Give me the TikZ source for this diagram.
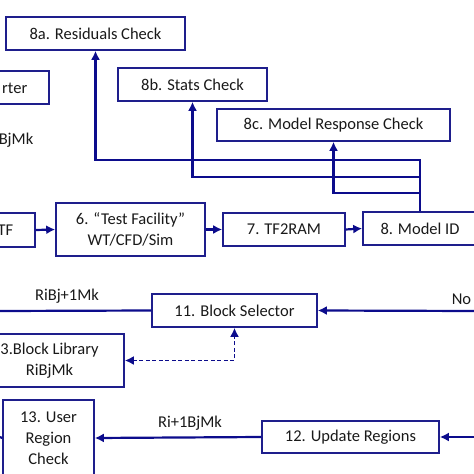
\documentclass[tikz,border=0pt]{standalone}
\usepackage{fontspec}
\setmainfont{Carlito}
\usetikzlibrary{arrows.meta}
\definecolor{boxblue}{RGB}{30,30,140}
\definecolor{lineblue}{RGB}{12,12,140}
\definecolor{txtgray}{RGB}{25,25,25}

\begin{document}
\begin{tikzpicture}[x=1bp, y=-1bp,
  box/.style={draw=boxblue, line width=1.6bp, minimum height=33bp, inner sep=0pt,
    align=center, text=txtgray, font=\fontsize{16.5bp}{21bp}\selectfont},
  lbl/.style={text=txtgray, inner sep=0pt, font=\fontsize{16.5bp}{21bp}\selectfont},
  link/.style={draw=lineblue, line width=2.2bp, -{Latex[length=9bp,width=9bp]}}]
  \useasboundingbox (0,0) rectangle (474,474);
  \clip (0,0) rectangle (474,474);

  % checks above the model ID
  \node[box, minimum width=179bp] (res) at (95.5,33.5) {8a. Residuals Check};
  \node[box, minimum width=149bp] (stats) at (192.5,84.5) {8b. Stats Check};
  \node[box, minimum width=233bp, minimum height=32bp] (resp) at (333.5,125) {8c. Model Response Check};
  \node[box, minimum width=149bp] (start) at (-25.5,87.5) {};
  \node[lbl, anchor=east] (startl) at (27.5,88) {rter};
  \node[lbl, anchor=east] (bjmk) at (33.5,140) {BjMk};

  % main chain
  \node[box, minimum width=122bp, minimum height=34bp] (ramtf) at (-26,230) {};
  \node[lbl, anchor=east] (ramtfl) at (13.5,230) {TF};
  \node[box, minimum width=149bp, minimum height=53bp] (fac) at (130.5,229.5) {6. “Test Facility”\\WT/CFD/Sim};
  \node[box, minimum width=122bp] (tfram) at (284,229.5) {7. TF2RAM};
  \node[box, minimum width=114bp] (mid) at (420,228.5) {8. Model ID};

  % block and region loop
  \node[box, minimum width=165bp] (sel) at (234.5,310.5) {11. Block Selector};
  \node[box, minimum width=149bp, minimum height=53bp] (lib) at (49.5,360.5) {3.Block Library\\RiBjMk};
  \node[box, minimum width=91bp, minimum height=76bp] (usr) at (48.5,438) {13. User\\Region\\Check};
  \node[box, minimum width=177bp, minimum height=32bp] (upd) at (350.5,437) {12. Update Regions};

  \coordinate (selin) at (474,311);
  \coordinate (selout) at (0,311);
  \coordinate (updin) at (474,437);
  \coordinate (usrout) at (0,437);

  \draw[link] (ramtf.east) -- (fac.west);
  \draw[link] (fac.east) -- (tfram.west);
  \draw[link] (tfram.east) -- (mid.west);

  % model ID fans out to 8a/8b/8c
  \draw[link] (mid.north) -- ++(0,-51) -| (res.south);
  \draw[link] (mid.north) -- ++(0,-34) -| (stats.south);
  \draw[link] (mid.north) -- ++(0,-18) -| (resp.south);

  \draw[link] (selin) -- (sel.east);
  \draw[link, -] (sel.west) -- (selout);
  \draw[link, line width=1.8bp, dash pattern=on 4bp off 2.5bp,
    {Latex[length=9bp,width=9bp]}-{Latex[length=9bp,width=9bp]}] (lib.east) -| (sel.south);
  \draw[link] (updin) -- (upd.east);
  \draw[link] (upd.west) -- (usr.east);
  \draw[link, -] (usr.west) -- (usrout);

  \node[lbl] (nolbl) at (461.5,299) {No};
  \node[lbl] (blbl) at (67,296) {RiBj+1Mk};
  \node[lbl] (rlbl) at (190,423) {Ri+1BjMk};
\end{tikzpicture}
\end{document}
